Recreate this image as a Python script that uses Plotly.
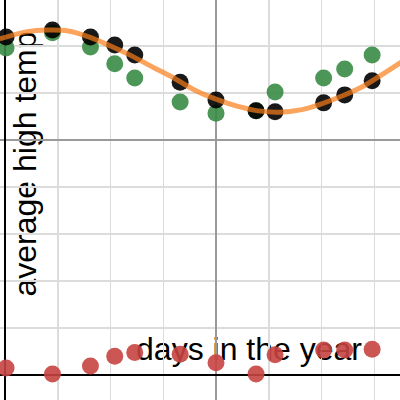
import plotly.graph_objects as go

# data (days in year, temperature)
days = [1, 45, 81, 104, 123, 166, 200, 238, 256, 302, 322, 348]
black_temp = [71.9, 73.4, 71.9, 70.2, 68.1, 62.3, 58.5, 56.2, 56.0, 57.9, 59.6, 62.6]
green_temp = [69.6, 72.8, 69.8, 66.2, 63.2, 58.1, 55.7, 56.2, 60.2, 63.2, 65.1, 68.1]
red_resid = [1.5, 0.2, 1.9, 4.0, 4.8, 4.4, 2.6, 0.2, 4.3, 5.3, 5.3, 5.5]

curve_x = [-5, 20, 40, 60, 80, 100, 120, 140, 160, 180, 200, 220, 240, 260, 280, 300, 320, 340, 360, 380]
curve_y = [71.5, 73.0, 73.4, 73.2, 71.9, 70.0, 67.9, 65.5, 63.2, 60.6, 58.7, 57.2, 56.2, 55.9, 56.4, 57.7, 59.4, 61.5, 64.3, 67.2]

x_label = "days in the year"
y_label = "average high temp"

FONT = "Liberation Sans, Arial, Helvetica, sans-serif"

fig = go.Figure()
fig.add_trace(go.Scatter(x=days, y=green_temp, mode="markers",
                         marker=dict(size=17, color="#388c46", opacity=0.9, line=dict(width=0)),
                         hoverinfo="skip"))
fig.add_trace(go.Scatter(x=days, y=black_temp, mode="markers",
                         marker=dict(size=17, color="#000000", opacity=0.9, line=dict(width=0)),
                         hoverinfo="skip"))
fig.add_trace(go.Scatter(x=days, y=red_resid, mode="markers",
                         marker=dict(size=17, color="#c74440", opacity=0.9, line=dict(width=0)),
                         hoverinfo="skip"))
fig.add_trace(go.Scatter(x=curve_x, y=curve_y, mode="lines",
                         line=dict(color="rgba(250,126,25,0.7)", width=5, shape="spline"),
                         hoverinfo="skip"))

fig.add_shape(type="rect", xref="paper", yref="paper",
              x0=0.6225 - 0.3, x1=0.6225 + 0.3, y0=0.085, y1=0.185,
              line=dict(width=0), fillcolor="rgba(0,0,0,0)", layer="between",
              label=dict(text=x_label, textposition="middle center",
                         font=dict(size=32, color="#000000", family=FONT)))
fig.add_shape(type="rect", xref="paper", yref="paper",
              x0=-0.0075, x1=0.1175, y0=0.2, y1=0.98,
              line=dict(width=0), fillcolor="rgba(0,0,0,0)", layer="between",
              label=dict(text=y_label, textposition="middle center", textangle=-90,
                         font=dict(size=32, color="#000000", family=FONT)))

fig.update_layout(
    width=400, height=400, margin=dict(l=0, r=0, t=0, b=0),
    plot_bgcolor="white", paper_bgcolor="white", showlegend=False,
    xaxis=dict(range=[-5 / 1.055, 395 / 1.055], dtick=200, tick0=0,
               showgrid=True, gridcolor="#9a9a9a", gridwidth=1.5,
               minor=dict(dtick=50, tick0=0, showgrid=True, gridcolor="#dcdcdc", gridwidth=1.5),
               zeroline=True, zerolinecolor="#000000", zerolinewidth=2.5,
               showticklabels=False, ticks="", showline=False, fixedrange=True),
    yaxis=dict(range=[-25 / 4.7, 375 / 4.7], dtick=50, tick0=0,
               showgrid=True, gridcolor="#9a9a9a", gridwidth=1.5,
               minor=dict(dtick=10, tick0=0, showgrid=True, gridcolor="#dcdcdc", gridwidth=1.5),
               zeroline=True, zerolinecolor="#000000", zerolinewidth=2.5,
               showticklabels=False, ticks="", showline=False, fixedrange=True),
)

fig.write_html("out.html", config={"displayModeBar": False, "staticPlot": True},
               post_script="document.body.style.margin='0';document.body.style.padding='0';")
